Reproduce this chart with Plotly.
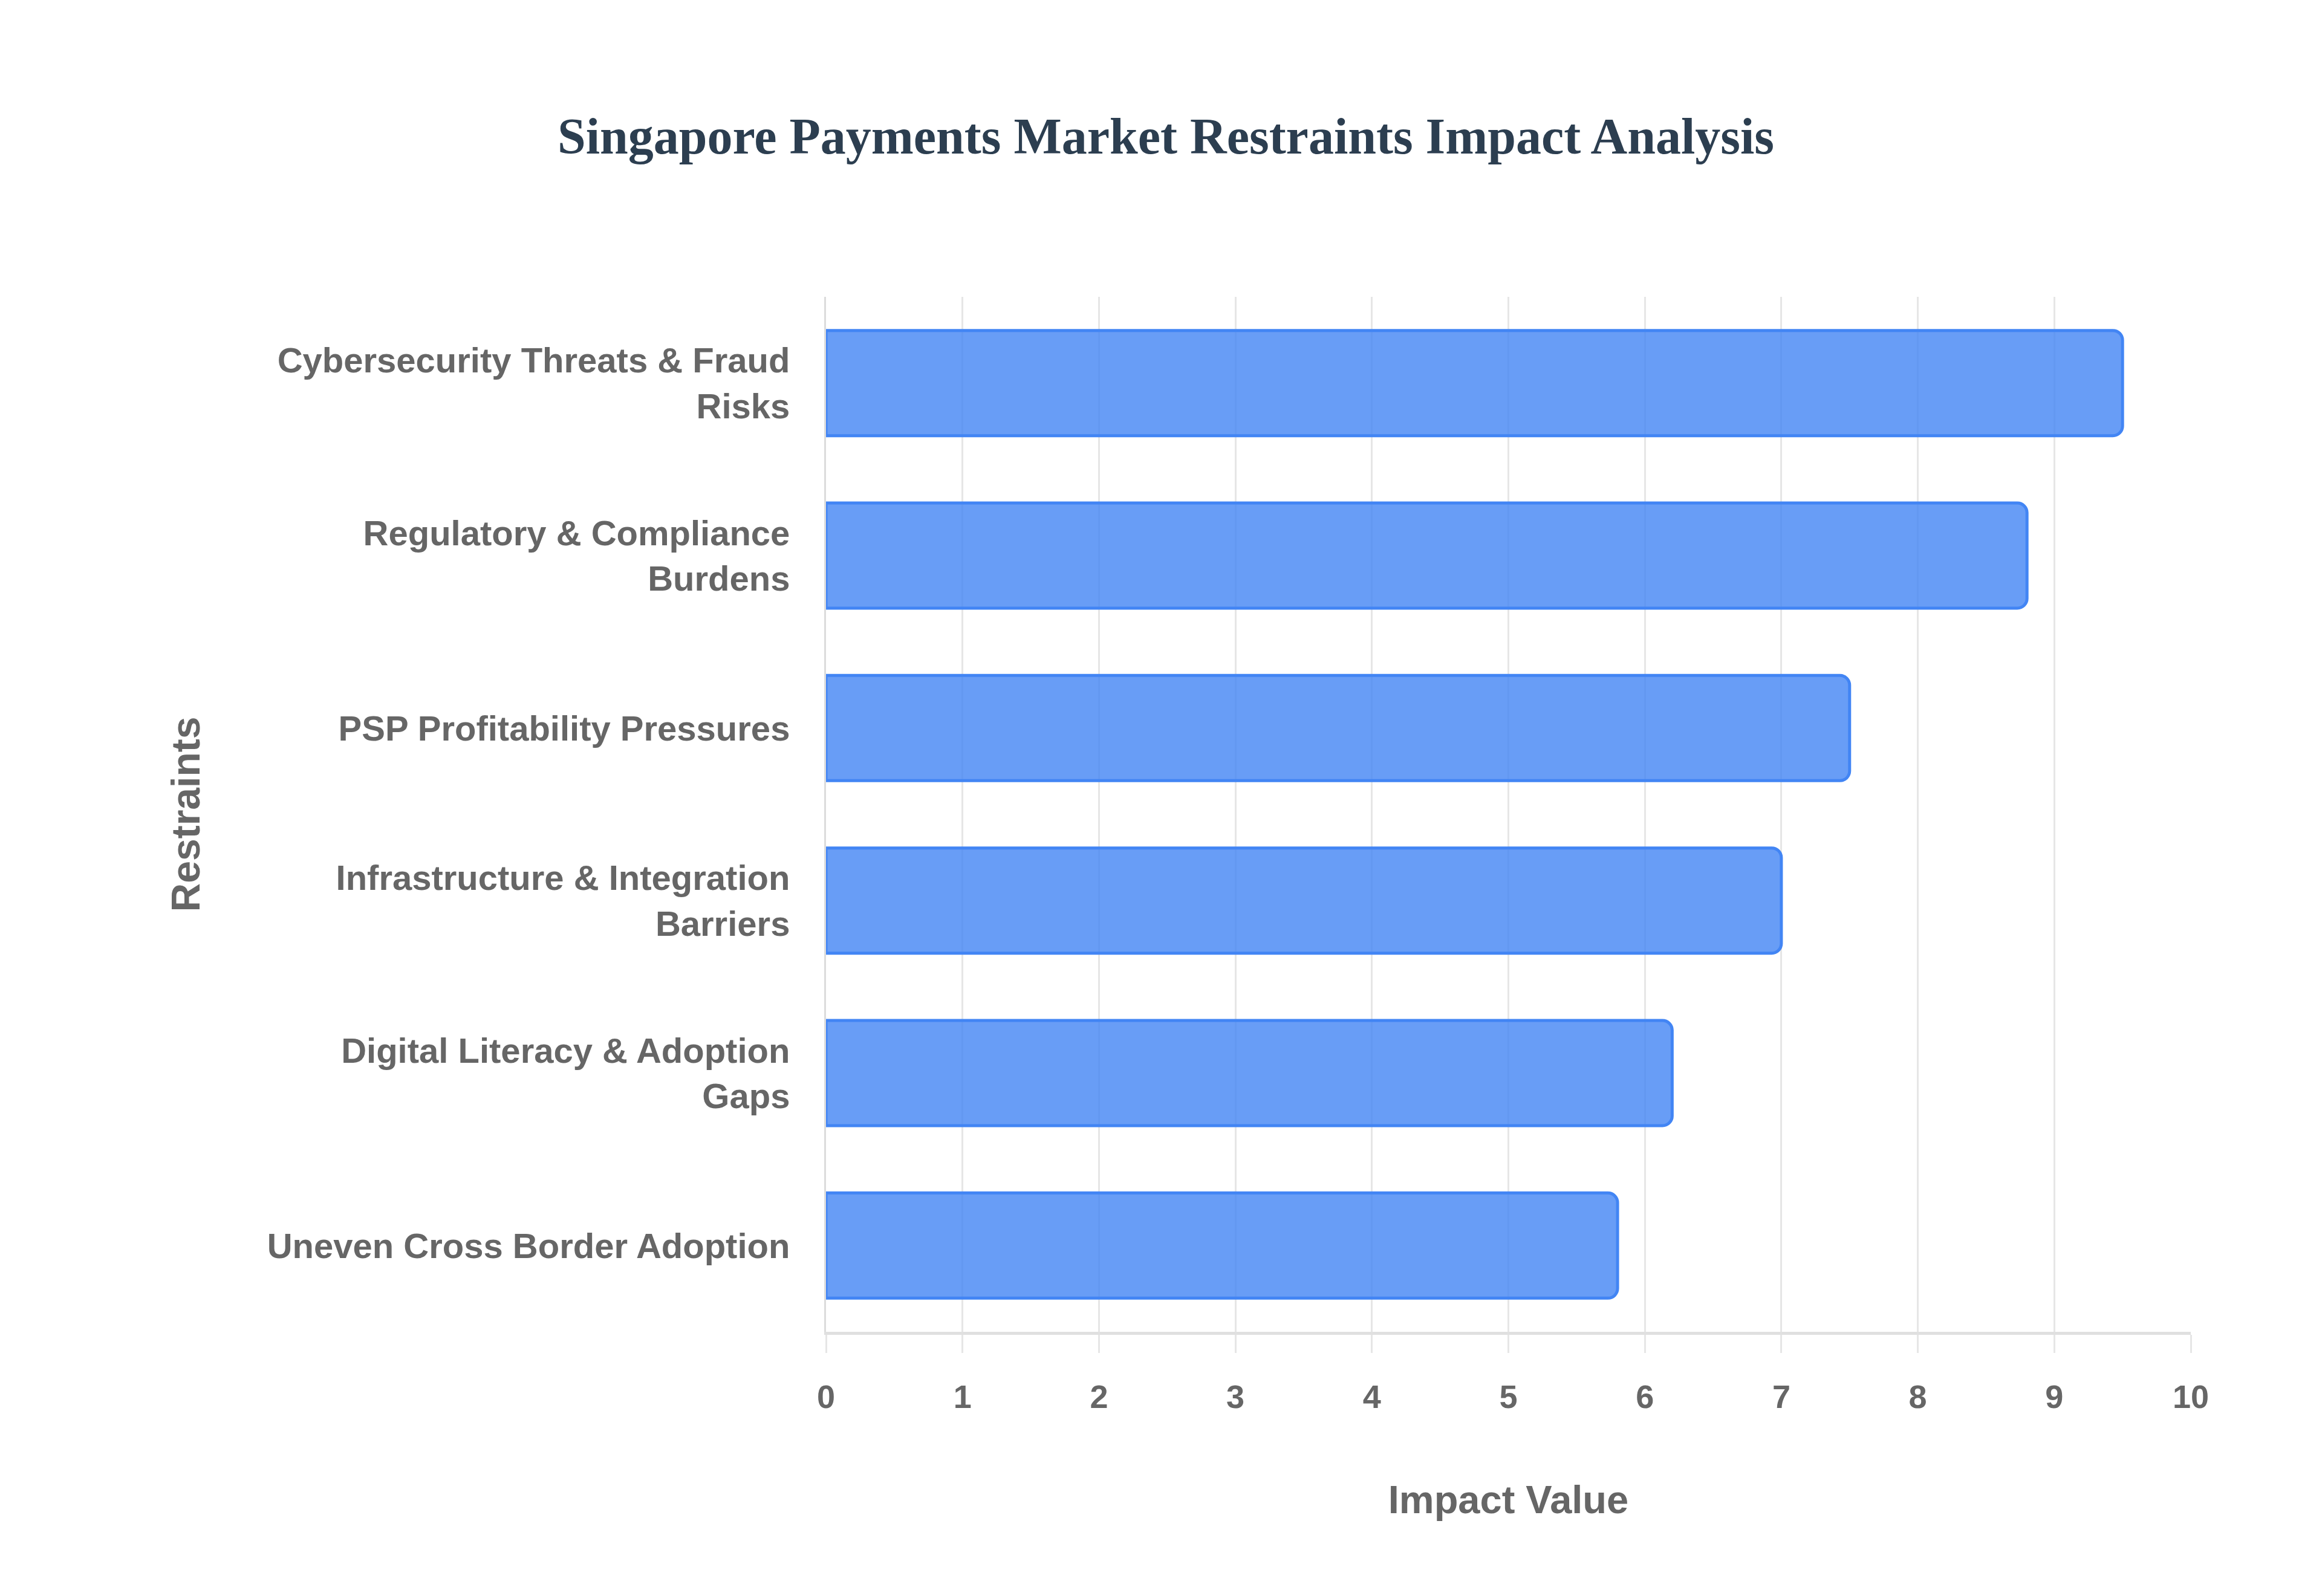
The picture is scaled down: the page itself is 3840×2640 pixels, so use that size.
import plotly.graph_objects as go

# Restraints (top to bottom) and their impact values
restraints = [
    "Cybersecurity Threats & Fraud<br>Risks",
    "Regulatory & Compliance<br>Burdens",
    "PSP Profitability Pressures",
    "Infrastructure & Integration<br>Barriers",
    "Digital Literacy & Adoption<br>Gaps",
    "Uneven Cross Border Adoption",
]
impact_values = [9.5, 8.8, 7.5, 7.0, 6.2, 5.8]
x_ticks = [0, 1, 2, 3, 4, 5, 6, 7, 8, 9, 10]

fig = go.Figure()
fig.add_trace(go.Bar(
    x=impact_values,
    y=restraints,
    orientation='h',
    marker=dict(color='rgba(66,133,244,0.8)', line=dict(color='rgb(66,133,244)', width=5)),
    hoverinfo='x+y',
))

fig.update_layout(
    width=3840,
    height=2640,
    margin=dict(l=1358, r=225, t=483, b=445),
    paper_bgcolor='white',
    plot_bgcolor='white',
    bargap=0.39,
    barcornerradius=16,
    showlegend=False,
    title=dict(
        text="<b>Singapore Payments Market Restraints Impact Analysis</b>",
        x=0.5, xanchor='center', y=0.918, yanchor='middle',
        font=dict(family="Liberation Serif, Times New Roman, serif", size=84, color='#2c3e50'),
    ),
)

fig.update_xaxes(
    range=[0, 10],
    tickvals=x_ticks,
    showgrid=True, gridcolor='#e6e6e6', gridwidth=3,
    zeroline=False,
    showline=True, linecolor='#e0e0e0', linewidth=5,
    ticks='outside', ticklen=30, tickcolor='#e6e6e6', tickwidth=3,
    ticklabelstandoff=26,
    tickfont=dict(family="Liberation Sans, Arial, sans-serif", size=54, color='#666666', weight='bold'),
    title=dict(text="<b>Impact Value</b>", standoff=120,
               font=dict(family="Liberation Sans, Arial, sans-serif", size=65, color='#666666')),
)

fig.update_yaxes(
    autorange='reversed',
    showgrid=False,
    showline=True, linecolor='#dcdcdc', linewidth=3,
    ticks='outside', ticklen=30, tickcolor='rgba(0,0,0,0)',
    ticklabelstandoff=15,
    tickfont=dict(family="Liberation Sans, Arial, sans-serif", size=58, color='#666666', weight='bold'),
    title=dict(text="<b>Restraints</b>", standoff=90,
               font=dict(family="Liberation Sans, Arial, sans-serif", size=66, color='#666666')),
)

fig.write_html("out.html")
